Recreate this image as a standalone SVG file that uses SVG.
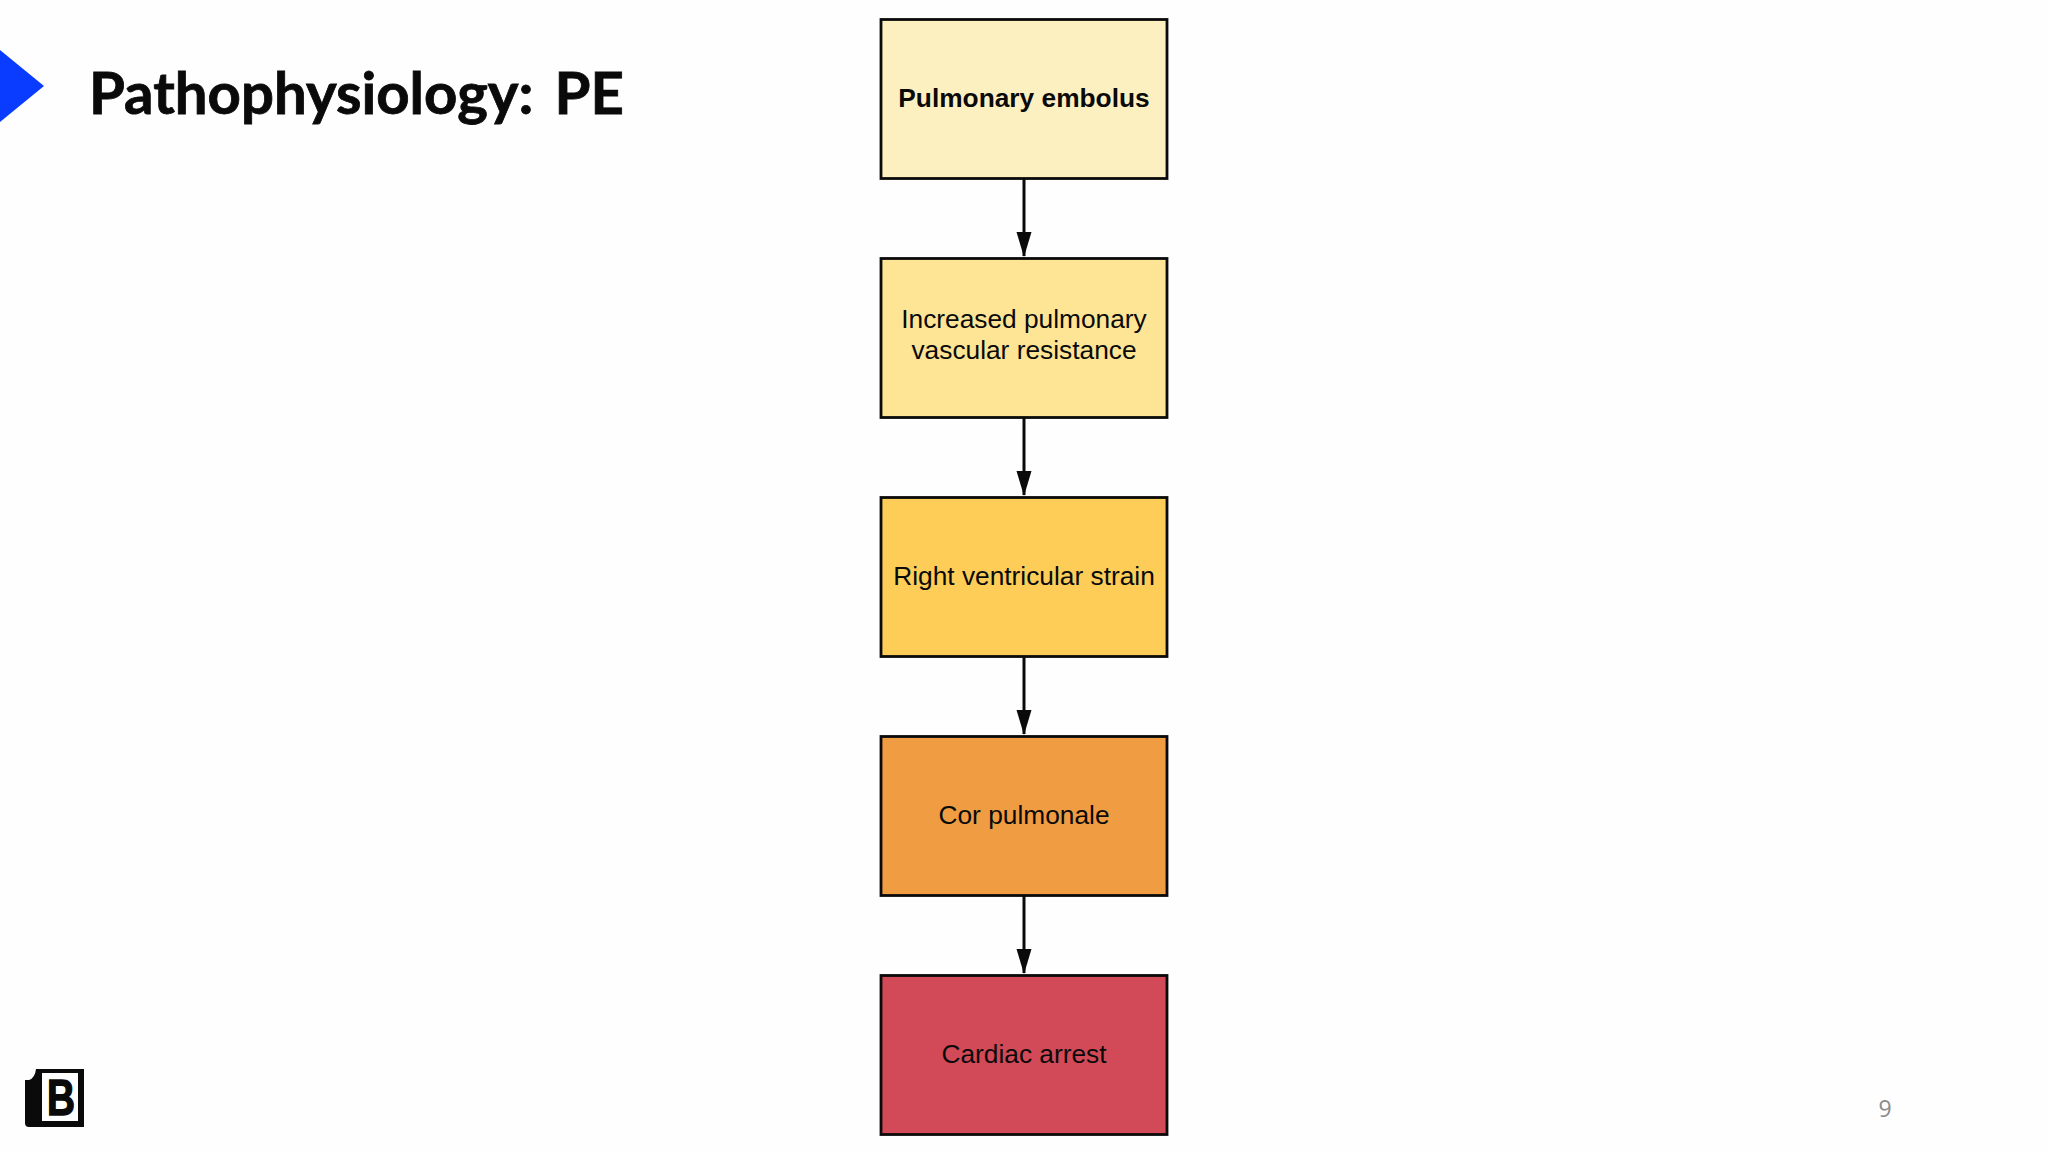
<svg xmlns="http://www.w3.org/2000/svg" width="2048" height="1152" viewBox="0 0 2048 1152">
<defs>
<style>
.box{stroke:#0a0a0a;stroke-width:2.8}
.lbl{font-family:"Liberation Sans",Arial,sans-serif;font-size:26.3px;fill:#0a0a0a;text-anchor:middle}
.conn{stroke:#0a0a0a;stroke-width:3;fill:none;marker-end:url(#arrow)}
</style>
<marker id="arrow" markerUnits="userSpaceOnUse" markerWidth="25" markerHeight="16" refX="24" refY="8" orient="auto" viewBox="0 0 25 16"><path d="M0 0.5L25 8L0 15.5Z" fill="#0a0a0a"/></marker>
</defs>
<rect width="2048" height="1152" fill="#fefefe"/>
<g id="title-marker"><polygon points="0,50 44,86 0,122" fill="#0a3cff"/></g>
<text id="title" x="89" y="113.5" font-family="Lato,'Open Sans',sans-serif" font-weight="700" font-size="58" word-spacing="7" fill="#0a0a0a" stroke="#0a0a0a" stroke-width="0.8" textLength="535" lengthAdjust="spacingAndGlyphs">Pathophysiology: PE</text>
<g id="connectors">
<line class="conn" x1="1024" y1="179" x2="1024" y2="256"/>
<line class="conn" x1="1024" y1="418" x2="1024" y2="495"/>
<line class="conn" x1="1024" y1="657" x2="1024" y2="734"/>
<line class="conn" x1="1024" y1="896" x2="1024" y2="973"/>
</g>
<g id="node-1"><rect class="box" x="881" y="19.5" width="286" height="159" fill="#fdf0c0"/><text class="lbl" x="1024" y="107" font-weight="700">Pulmonary embolus</text></g>
<g id="node-2"><rect class="box" x="881" y="258.5" width="286" height="159" fill="#fee595"/><text class="lbl" x="1024" y="328">Increased pulmonary</text><text class="lbl" x="1024" y="359">vascular resistance</text></g>
<g id="node-3"><rect class="box" x="881" y="497.5" width="286" height="159" fill="#fdcd58"/><text class="lbl" x="1024" y="585">Right ventricular strain</text></g>
<g id="node-4"><rect class="box" x="881" y="736.5" width="286" height="159" fill="#f09c43"/><text class="lbl" x="1024" y="824">Cor pulmonale</text></g>
<g id="node-5"><rect class="box" x="881" y="975.5" width="286" height="159" fill="#d24a58"/><text class="lbl" x="1024" y="1063">Cardiac arrest</text></g>
<g id="logo"><path d="M36 1069H84V1127H29Q25 1127 25 1123V1080H29Q35 1078 36 1069Z" fill="#0a0a0a"/><rect x="42" y="1073" width="36" height="48" fill="#fff"/><text x="47" y="1115" font-family="'Liberation Sans',Arial,sans-serif" font-weight="700" font-size="50" fill="#0a0a0a" stroke="#0a0a0a" stroke-width="1.5" textLength="28" lengthAdjust="spacingAndGlyphs">B</text></g>
<text id="page-number" x="1885" y="1117" font-family="'Open Sans',sans-serif" font-size="23" fill="#8a8a8a" text-anchor="middle">9</text>
</svg>
